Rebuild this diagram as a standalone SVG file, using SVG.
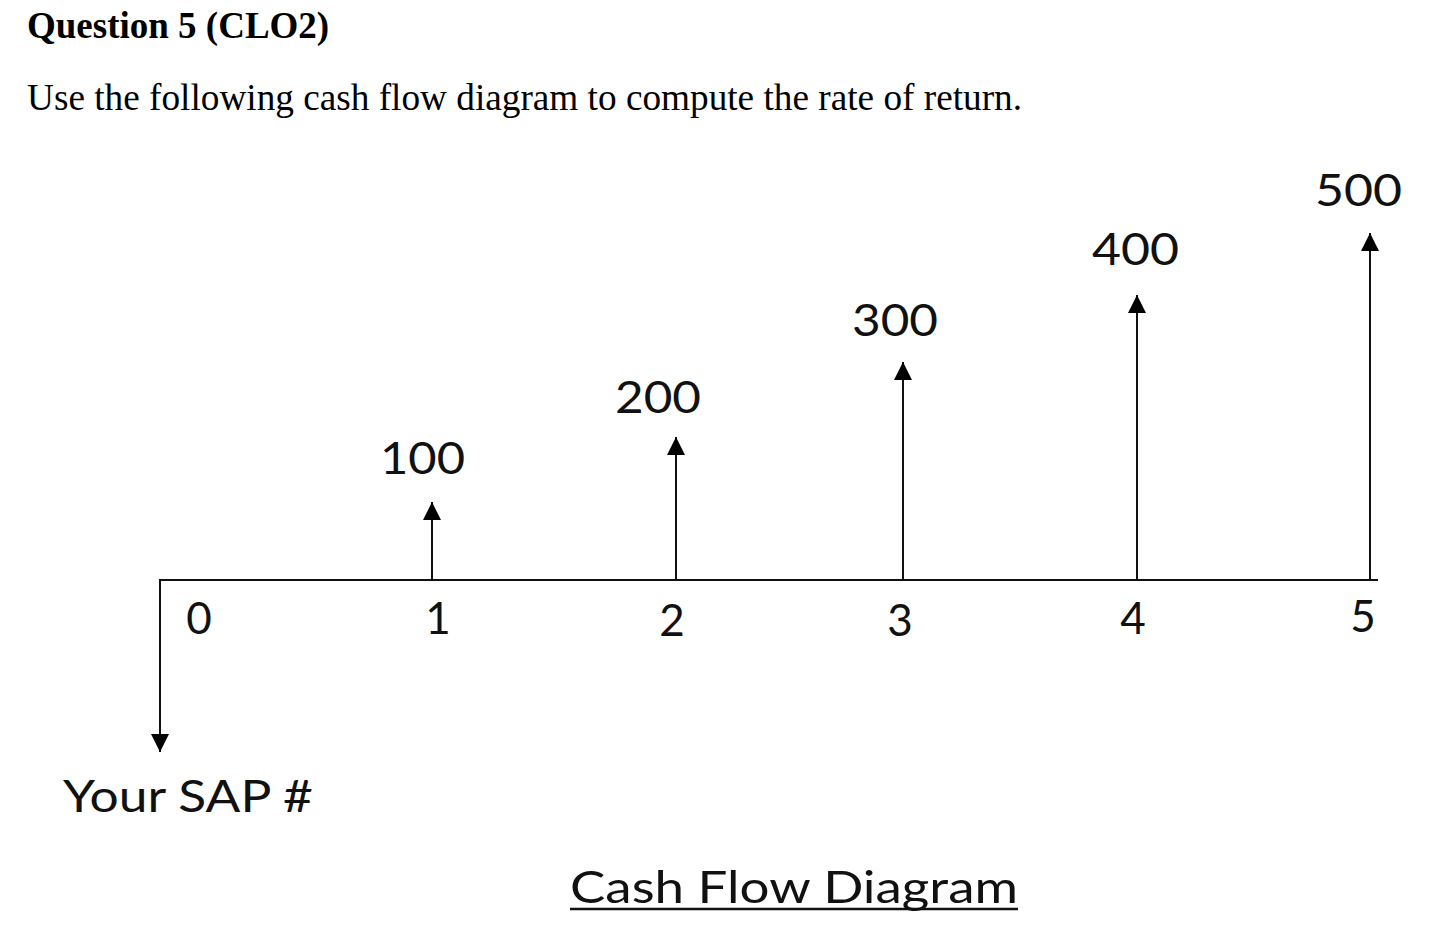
<svg xmlns="http://www.w3.org/2000/svg" width="1437" height="932" viewBox="0 0 1437 932">
<style>
.t{font-family:"Liberation Serif","Times New Roman",serif;fill:#000}
.s{font-family:Lato,"Open Sans",sans-serif;fill:#111;font-size:44px}
.ln{stroke:#111;stroke-width:2;fill:none}
</style>
<defs>
<marker id="ah" viewBox="0 0 10 10" refX="10" refY="5" markerWidth="18" markerHeight="18" markerUnits="userSpaceOnUse" orient="auto">
<path d="M0,0 L10,5 L0,10 Z" fill="#000"/>
</marker>
</defs>
<rect width="1437" height="932" fill="#fff"/>
<text class="t" x="27" y="38" font-size="37" font-weight="bold">Question 5 (CLO2)</text>
<text class="t" x="27" y="110" font-size="37" textLength="995" lengthAdjust="spacingAndGlyphs">Use the following cash flow diagram to compute the rate of return.</text>
<g id="connectors">
<line class="ln" x1="160" y1="580" x2="1378" y2="580"/>
<line class="ln" x1="160" y1="579" x2="160" y2="752" marker-end="url(#ah)"/>
<line class="ln" x1="432" y1="580" x2="432" y2="502" marker-end="url(#ah)"/>
<line class="ln" x1="676" y1="580" x2="676" y2="437" marker-end="url(#ah)"/>
<line class="ln" x1="903" y1="580" x2="903" y2="362" marker-end="url(#ah)"/>
<line class="ln" x1="1137" y1="580" x2="1137" y2="295" marker-end="url(#ah)"/>
<line class="ln" x1="1370" y1="580" x2="1370" y2="233" marker-end="url(#ah)"/>
</g>
<g id="t0"><text class="s" x="199" y="634" text-anchor="middle">0</text></g>
<g id="t1"><text class="s" x="438" y="634" text-anchor="middle">1</text></g>
<g id="t2"><text class="s" x="672" y="636" text-anchor="middle">2</text></g>
<g id="t3"><text class="s" x="900" y="636" text-anchor="middle">3</text></g>
<g id="t4"><text class="s" x="1133" y="634" text-anchor="middle">4</text></g>
<g id="t5"><text class="s" x="1363" y="632" text-anchor="middle">5</text></g>
<g id="v100"><text class="s" x="380" y="474" textLength="85" lengthAdjust="spacingAndGlyphs">100</text></g>
<g id="v200"><text class="s" x="615" y="413" textLength="86" lengthAdjust="spacingAndGlyphs">200</text></g>
<g id="v300"><text class="s" x="852" y="336" textLength="86" lengthAdjust="spacingAndGlyphs">300</text></g>
<g id="v400"><text class="s" x="1092" y="265" textLength="87" lengthAdjust="spacingAndGlyphs">400</text></g>
<g id="v500"><text class="s" x="1315" y="206" textLength="87" lengthAdjust="spacingAndGlyphs">500</text></g>
<g id="sap"><text class="s" x="63" y="812" textLength="250" lengthAdjust="spacingAndGlyphs">Your SAP #</text></g>
<g id="caption">
<text class="s" x="570" y="903" textLength="448" lengthAdjust="spacingAndGlyphs">Cash Flow Diagram</text>
<line x1="570" y1="909" x2="1018" y2="909" stroke="#111" stroke-width="2.5"/>
</g>
</svg>
